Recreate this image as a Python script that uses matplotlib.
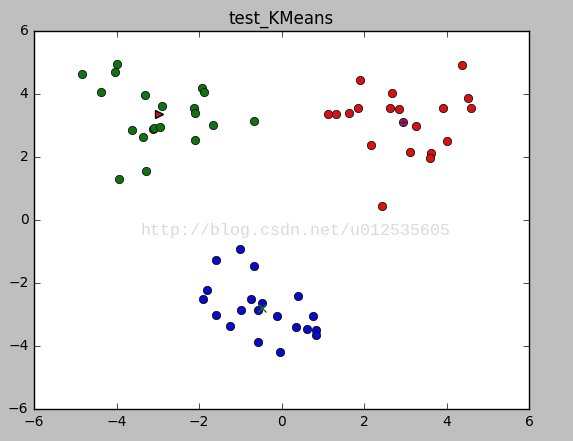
import matplotlib
matplotlib.use("Agg")
import matplotlib.pyplot as plt

# Cluster 1 (green)
green_x = [-4.83, -3.98, -4.03, -4.38, -3.30, -2.89, -3.62, -3.35, -3.11, -3.08,
           -2.94, -3.28, -3.94, -1.93, -1.87, -2.11, -2.09, -1.65, -2.10, -0.67]
green_y = [4.62, 4.95, 4.69, 4.05, 3.96, 3.61, 2.87, 2.62, 2.90, 2.91,
           2.94, 1.57, 1.31, 4.19, 4.05, 3.57, 3.41, 3.00, 2.55, 3.14]

# Cluster 2 (red)
red_x = [4.38, 1.91, 2.69, 4.53, 4.60, 3.92, 2.63, 2.86, 1.86, 1.64,
         1.33, 1.13, 2.95, 3.27, 4.00, 2.17, 3.12, 3.63, 3.61, 2.44]
red_y = [4.92, 4.46, 4.02, 3.86, 3.54, 3.57, 3.54, 3.51, 3.57, 3.41,
         3.38, 3.35, 3.10, 2.97, 2.52, 2.39, 2.17, 2.14, 1.98, 0.45]

# Cluster 3 (blue)
blue_x = [-1.00, -1.59, -0.66, -1.80, -1.90, -0.74, -0.47, 0.40, -0.97, -0.58,
          -1.59, -0.11, 0.77, -1.24, 0.36, 0.62, 0.84, 0.84, -0.57, -0.03]
blue_y = [-0.92, -1.27, -1.46, -2.22, -2.51, -2.51, -2.63, -2.41, -2.86, -2.86,
          -3.01, -3.05, -3.05, -3.37, -3.40, -3.47, -3.50, -3.64, -3.88, -4.20]

# Centroids
cent_x = [-2.98, 2.95, -0.47]
cent_y = [3.36, 3.12, -2.80]
cent_markers = ['>', '+', 'x']
cent_colors = ['#b81c24', '#1c1cb0', '#1a6a1a']

ticks = [-6, -4, -2, 0, 2, 4, 6]

plt.style.use('classic')
fig = plt.figure(figsize=(5.73, 4.41), dpi=100)
ax = fig.add_axes([34/573, 1 - 409/441, 495/573, 378/441])

ax.plot(green_x, green_y, 'o', color='#127212', markersize=6)
ax.plot(red_x, red_y, 'o', color='#d41414', markersize=6)
ax.plot(blue_x, blue_y, 'o', color='#0a0ac8', markersize=6)
for cx, cy, m, c in zip(cent_x, cent_y, cent_markers, cent_colors):
    ax.plot(cx, cy, m, color=c, markersize=6, markeredgewidth=1)

ax.set_xlim(-6, 6)
ax.set_ylim(-6, 6)
ax.set_xticks(ticks)
ax.set_yticks(ticks)
ax.set_title('test_KMeans', fontsize=12)
ax.tick_params(labelsize=10)

fig.text(296/573, 1 - 231/441, 'http://blog.csdn.net/u012535605',
         family='Liberation Mono', fontsize=12, color='#dadada',
         ha='center', va='center')

fig.savefig('out.png', dpi=100, facecolor=fig.get_facecolor())
